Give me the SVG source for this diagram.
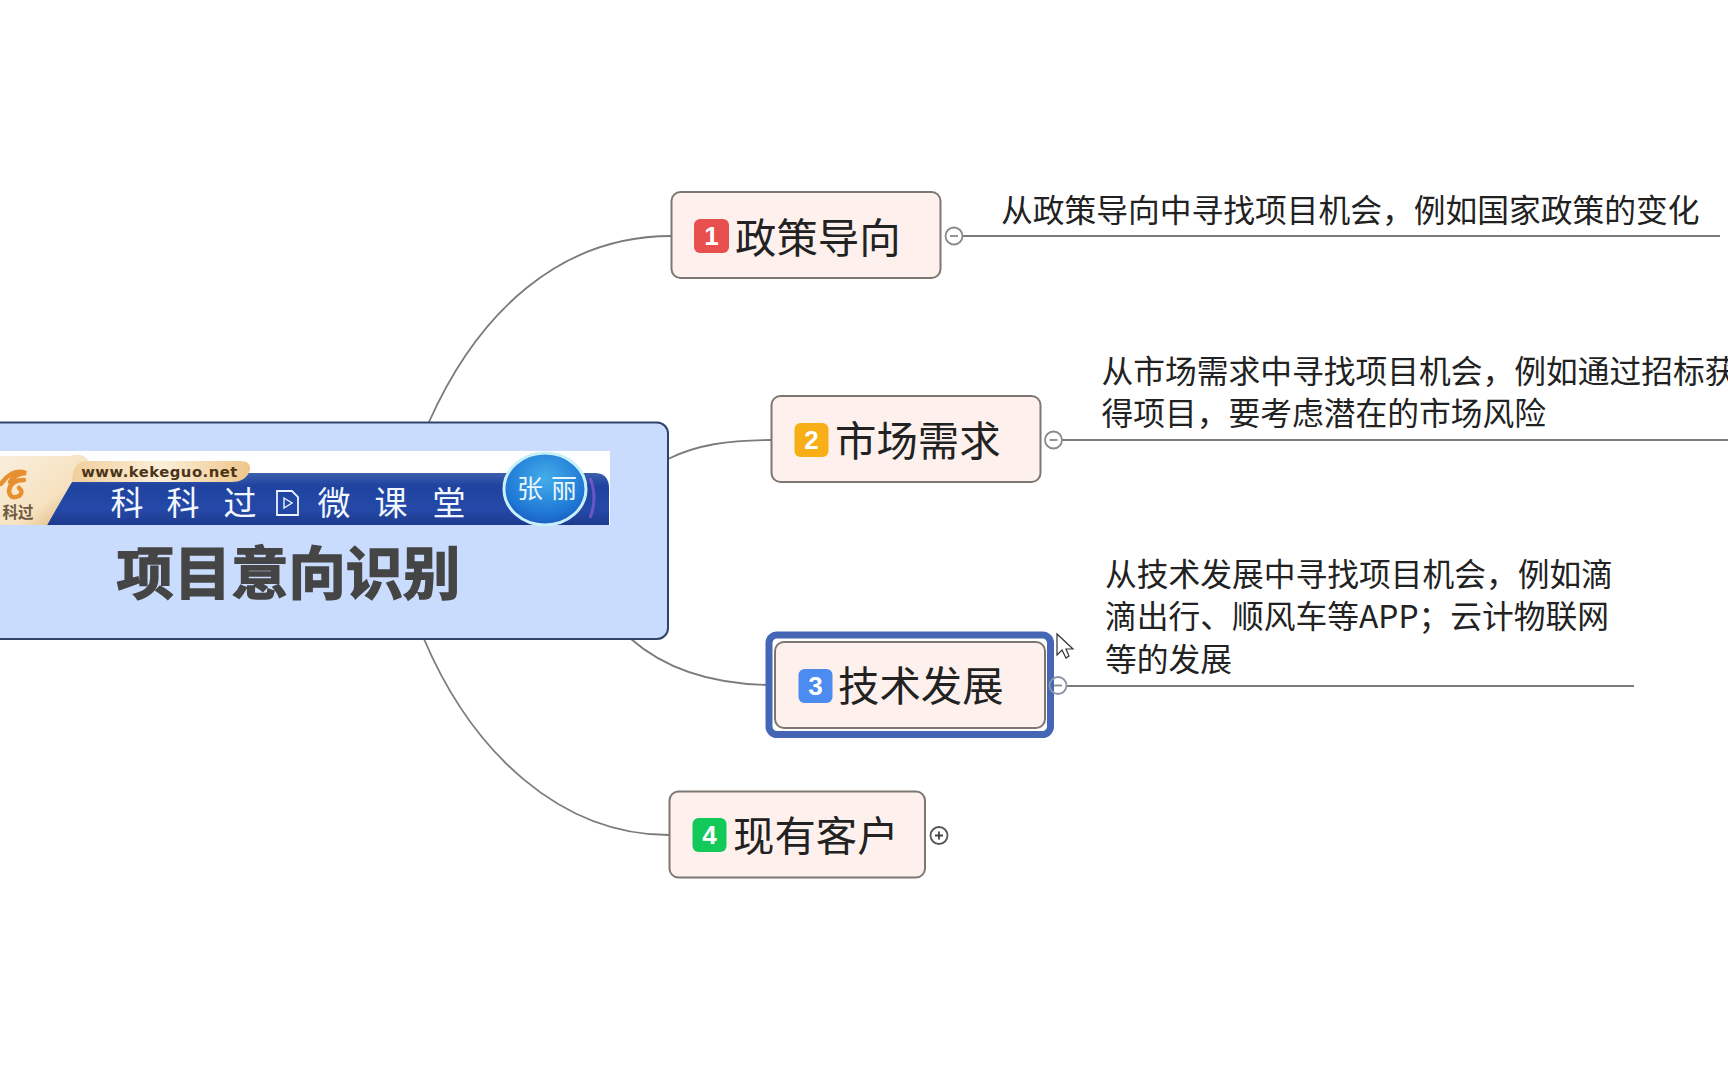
<svg xmlns="http://www.w3.org/2000/svg" width="1728" height="1080" viewBox="0 0 1728 1080">
<defs>
<linearGradient id="blue" x1="0" y1="0" x2="0" y2="1"><stop offset="0" stop-color="#3d5fae"/><stop offset=".25" stop-color="#1f439f"/><stop offset=".7" stop-color="#2549a8"/><stop offset="1" stop-color="#1d3a8c"/></linearGradient>
<linearGradient id="gold" x1="0" y1="0" x2="1" y2="1"><stop offset="0" stop-color="#f9eedd"/><stop offset=".6" stop-color="#f6e2c0"/><stop offset="1" stop-color="#d9a35c"/></linearGradient>
<linearGradient id="pill" x1="0" y1="0" x2="1" y2="0"><stop offset="0" stop-color="#f0cf9c"/><stop offset=".5" stop-color="#fbeed8"/><stop offset="1" stop-color="#eec68a"/></linearGradient>
<radialGradient id="ball" cx=".5" cy=".35" r=".7"><stop offset="0" stop-color="#43aeea"/><stop offset=".7" stop-color="#1f78d6"/><stop offset="1" stop-color="#1a55b8"/></radialGradient>
</defs>
<style>
.cjk{font-family:"Noto Sans CJK SC","Liberation Sans",sans-serif}
.conn{fill:none;stroke:#7b7b7b;stroke-width:1.8}
.box{fill:#fef1ed;stroke:#7c7771;stroke-width:2}
.title{font-size:41.4px;fill:#222}
.note{font-size:31.75px;fill:#222}
.num{font-family:"Liberation Sans",sans-serif;font-weight:700;font-size:26px;fill:#fff;text-anchor:middle}
.ban{font-size:33px;fill:#f2f7ff;text-anchor:middle}
.tog{fill:#fff;stroke:#8a8a8a;stroke-width:1.8}
.togm{stroke:#8a8a8a;stroke-width:1.8;fill:none}
</style>
<rect width="1728" height="1080" fill="#fff"/>
<g id="connectors">
<path class="conn" d="M429 422C478 312 560 236 671 236"/>
<path class="conn" d="M668 459C696 445 728 440 771 440"/>
<path class="conn" d="M631 639C664 668 712 685 775 685"/>
<path class="conn" d="M424 639C472 752 560 835 669 835"/>
<path class="conn" d="M963 236H1720"/>
<path class="conn" d="M1062 440H1728"/>
<path class="conn" d="M1067 686H1634"/>
</g>
<g id="root">
<rect x="-20" y="422.500" width="688" height="216.500" rx="11" fill="#c9dcfd" stroke="#2f4468" stroke-width="2"/>
<rect x="0" y="451" width="610" height="74" fill="#fff"/>
<path d="M70 482L74 473H596Q609 474 609 488V525H47Z" fill="url(#blue)"/>
<path d="M0 456H70Q82 452 88 460L72 482L47 525H0Z" fill="url(#gold)"/>
<path d="M72 482Q72 464 84 461H238Q251 460 250 470Q246 482 232 482Z" fill="url(#pill)"/>
<text x="159.500" y="477" text-anchor="middle" font-family="'DejaVu Sans',sans-serif" font-weight="700" font-size="14.800" letter-spacing=".5" fill="#4a3418">www.kekeguo.net</text>
<text class="cjk ban" x="127" y="515">科</text>
<text class="cjk ban" x="183" y="515">科</text>
<text class="cjk ban" x="240" y="515">过</text>
<path d="M277 491H292L298 497V515H277Z" fill="none" stroke="#eaf1ff" stroke-width="1.800"/>
<path d="M284 498L292 503L284 508Z" fill="none" stroke="#eaf1ff" stroke-width="1.400"/>
<text class="cjk ban" x="334" y="515">微</text>
<text class="cjk ban" x="391" y="515">课</text>
<text class="cjk ban" x="449" y="515">堂</text>
<path d="M590 478Q598 498 590 518" fill="none" stroke="#a765dc" stroke-width="3" opacity=".55"/>
<ellipse cx="545" cy="489" rx="41" ry="36" fill="url(#ball)" stroke="#c8f0fb" stroke-width="3"/>
<text class="cjk" x="530" y="498" font-size="26" fill="#e8f5ff" text-anchor="middle">张</text>
<text class="cjk" x="564" y="498" font-size="26" fill="#e8f5ff" text-anchor="middle">丽</text>
<path d="M1 484Q12 468 26 473Q14 474 10 482M24 480Q10 480 9 491Q10 500 19 496Q24 492 19 488" fill="none" stroke="#e8902f" stroke-width="4.500" stroke-linecap="round"/>
<text class="cjk" x="18" y="518" font-size="15.500" font-weight="700" fill="#6e5a3e" text-anchor="middle">科过</text>
<text class="cjk" x="288.500" y="594" font-size="57.300" font-weight="700" fill="#454545" stroke="#454545" stroke-width="1.500" text-anchor="middle">项目意向识别</text>
</g>
<g id="node1">
<rect class="box" x="671.500" y="192" width="269" height="86" rx="9"/>
<rect x="694" y="219" width="35" height="34" rx="6" fill="#e8504f"/>
<text class="num" x="711.500" y="245">1</text>
<text class="cjk title" x="735" y="253">政策导向</text>
<circle class="tog" cx="954" cy="236" r="8.500"/><path class="togm" d="M950 236H958"/>
<text class="cjk note" x="1001" y="222">从政策导向中寻找项目机会，例如国家政策的变化</text>
</g>
<g id="node2">
<rect class="box" x="771.500" y="396" width="269" height="86" rx="9"/>
<rect x="794.500" y="423" width="34" height="34" rx="6" fill="#f8ae16"/>
<text class="num" x="811.500" y="449">2</text>
<text class="cjk title" x="835" y="456">市场需求</text>
<circle class="tog" cx="1053.500" cy="440" r="8.500"/><path class="togm" d="M1049.500 440H1057.500"/>
<text class="cjk note" x="1101.500" y="383">从市场需求中寻找项目机会，例如通过招标获</text>
<text class="cjk note" x="1101.500" y="425">得项目，要考虑潜在的市场风险</text>
</g>
<g id="node3">
<rect x="769" y="635" width="281.500" height="99.500" rx="8" fill="#fff" stroke="#4566b5" stroke-width="7"/>
<rect class="box" x="775" y="642" width="270" height="86" rx="9"/>
<rect x="798.500" y="669" width="34" height="34" rx="6" fill="#4c8bf0"/>
<text class="num" x="815.500" y="695">3</text>
<text class="cjk title" x="838" y="701">技术发展</text>
<circle cx="1058" cy="685.500" r="8.500" fill="none" stroke="#8a93a8" stroke-width="1.800"/><path class="togm" d="M1054 685.500H1062"/>
<text class="cjk note" x="1105" y="586">从技术发展中寻找项目机会，例如滴</text>
<text class="cjk note" x="1105" y="628">滴出行、顺风车等APP；云计物联网</text>
<text class="cjk note" x="1105" y="671">等的发展</text>
</g>
<g id="node4">
<rect class="box" x="669.500" y="791.500" width="255.500" height="86" rx="9"/>
<rect x="692.500" y="818" width="34" height="34" rx="6" fill="#12c95a"/>
<text class="num" x="709.500" y="844">4</text>
<text class="cjk title" x="733" y="851">现有客户</text>
<circle cx="939" cy="835.500" r="8.500" fill="#fff" stroke="#555" stroke-width="1.800"/><path d="M935 835.500H943M939 831.500V839.500" stroke="#444" stroke-width="1.800"/>
</g>
<path id="cursor" d="M1057 634V655L1062 650L1066 658L1069 656L1066 649H1073Z" fill="#fff" stroke="#333" stroke-width="1.200"/>
</svg>
